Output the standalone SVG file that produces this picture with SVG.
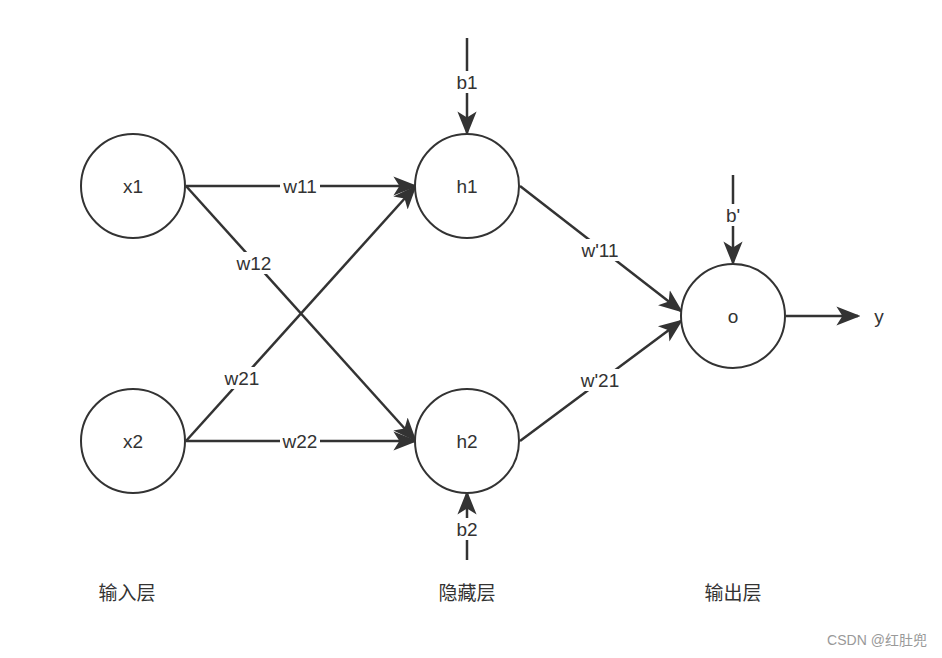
<svg xmlns="http://www.w3.org/2000/svg" width="942" height="658" viewBox="0 0 942 658">
<style>
.n{fill:#fff;stroke:#333;stroke-width:2}
.e{stroke:#333;stroke-width:2.5;fill:none;marker-end:url(#a)}
.t{font-family:"Liberation Sans","Noto Sans CJK SC",sans-serif;font-size:19px;fill:#333;text-anchor:middle;dominant-baseline:central}
.bg{fill:#fff}
</style>
<defs><marker id="a" viewBox="0 0 10 10" refX="9" refY="5" markerWidth="8" markerHeight="8" markerUnits="userSpaceOnUse" orient="auto"><path d="M0,0 L10,5 L0,10 L2.5,5 z" fill="#333" transform="scale(1)"/></marker>
<marker id="b" viewBox="0 0 10 10" refX="9" refY="5" markerWidth="24" markerHeight="24" markerUnits="userSpaceOnUse" orient="auto"><path d="M0,1 L10,5 L0,9 L2.5,5 z" fill="#333"/></marker></defs>
<rect width="942" height="658" fill="#fff"/>
<g id="connectors" style="--m:url(#b)">
<path class="e" style="marker-end:url(#b)" d="M186,186 L415,186"/>
<path class="e" style="marker-end:url(#b)" d="M186,186 L415,440"/>
<path class="e" style="marker-end:url(#b)" d="M186,441 L415,187"/>
<path class="e" style="marker-end:url(#b)" d="M186,441 L415,441"/>
<path class="e" style="marker-end:url(#b)" d="M467,38 L467,133"/>
<path class="e" style="marker-end:url(#b)" d="M467,560 L467,493"/>
<path class="e" style="marker-end:url(#b)" d="M733,175 L733,263"/>
<path class="e" style="marker-end:url(#b)" d="M520,186 L681,311"/>
<path class="e" style="marker-end:url(#b)" d="M520,441 L681,321"/>
<path class="e" style="marker-end:url(#b)" d="M786,316 L858,316"/>
<rect class="bg" x="280" y="175" width="40" height="22"/><text class="t" x="300" y="186">w11</text>
<rect class="bg" x="234" y="252" width="40" height="22"/><text class="t" x="254" y="263">w12</text>
<rect class="bg" x="222" y="367" width="40" height="22"/><text class="t" x="242" y="378">w21</text>
<rect class="bg" x="280" y="430" width="40" height="22"/><text class="t" x="300" y="441">w22</text>
<rect class="bg" x="578" y="239" width="44" height="22"/><text class="t" x="600" y="250">w'11</text>
<rect class="bg" x="578" y="369" width="44" height="22"/><text class="t" x="600" y="380">w'21</text>
<rect class="bg" x="454" y="71" width="26" height="22"/><text class="t" x="467" y="82">b1</text>
<rect class="bg" x="454" y="518" width="26" height="22"/><text class="t" x="467" y="529">b2</text>
<rect class="bg" x="722" y="204" width="22" height="22"/><text class="t" x="733" y="215">b'</text>
</g>
<g id="x1"><circle class="n" cx="133" cy="186" r="52"/><text class="t" x="133" y="186">x1</text></g>
<g id="x2"><circle class="n" cx="133" cy="441" r="52"/><text class="t" x="133" y="441">x2</text></g>
<g id="h1"><circle class="n" cx="467" cy="186" r="52"/><text class="t" x="467" y="186">h1</text></g>
<g id="h2"><circle class="n" cx="467" cy="441" r="52"/><text class="t" x="467" y="441">h2</text></g>
<g id="o"><circle class="n" cx="733" cy="316" r="52"/><text class="t" x="733" y="316">o</text></g>
<g id="y"><text class="t" x="879" y="316">y</text></g>
<g id="labels">
<text class="t" x="127" y="593">输入层</text>
<text class="t" x="467" y="593">隐藏层</text>
<text class="t" x="733" y="593">输出层</text>
<text x="877" y="645" style="font-family:'Liberation Sans','Noto Sans CJK SC',sans-serif;font-size:14px;fill:#999;text-anchor:middle">CSDN @红肚兜</text>
</g>
</svg>
